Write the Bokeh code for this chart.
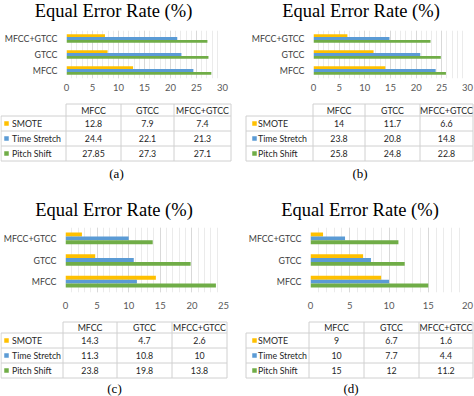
from bokeh.plotting import figure
from bokeh.layouts import column, row
from bokeh.models import ColumnDataSource, Range1d, FactorRange, SingleIntervalTicker
from bokeh.transform import dodge
from bokeh.core.properties import value
from bokeh.embed import file_html
from bokeh.resources import INLINE

# ---------------- data ----------------
categories = ["MFCC", "GTCC", "MFCC+GTCC"]          # bottom -> top on the chart
series = ["SMOTE", "Time Stretch", "Pitch Shift"]
colors = ["#FFC000", "#5B9BD5", "#70AD47"]
title_text = "Equal Error Rate (%)"
captions = ["(a)", "(b)", "(c)", "(d)"]

a_smote = [12.8, 7.9, 7.4]
a_time = [24.4, 22.1, 21.3]
a_pitch = [27.85, 27.3, 27.1]

b_smote = [14, 11.7, 6.6]
b_time = [23.8, 20.8, 14.8]
b_pitch = [25.8, 24.8, 22.8]

c_smote = [14.3, 4.7, 2.6]
c_time = [11.3, 10.8, 10]
c_pitch = [23.8, 19.8, 13.8]

d_smote = [9, 6.7, 1.6]
d_time = [10, 7.7, 4.4]
d_pitch = [15, 12, 11.2]

axis_max = [30, 30, 25, 20]

# ---------------- styling ----------------
SANS = "Lato"
SERIF = "Liberation Serif"
W = 237
BAR_H = 0.18
TXT = "#262626"


def blank(H):
    p = figure(width=W, height=H, x_range=Range1d(0, W), y_range=Range1d(H, 0),
               x_axis_type=None, y_axis_type=None, output_backend="svg",
               toolbar_location=None, min_border=0, min_border_left=0,
               min_border_right=0, min_border_top=0, min_border_bottom=0)
    p.frame_align = False
    p.grid.visible = False
    p.outline_line_color = None
    return p


def title_fig(H, cx, cy):
    p = blank(H)
    p.text(x=[cx], y=[cy], text=[title_text], text_font=value(SERIF),
           text_font_size="18.5px", text_color="#000000",
           text_align="center", text_baseline="middle")
    return p


def chart(smote, time, pitch, xmax, H, ftop, fh, fleft, fw, x_standoff):
    p = figure(width=W, height=H,
               y_range=FactorRange(factors=categories), x_range=Range1d(0, xmax),
               output_backend="svg", toolbar_location=None,
               min_border_left=fleft, min_border_right=W - fleft - fw,
               min_border_top=ftop, min_border_bottom=H - ftop - fh)
    p.frame_align = False
    src = ColumnDataSource(dict(cat=categories, smote=smote, time=time, pitch=pitch))
    for key, off, col in (("smote", BAR_H, colors[0]), ("time", 0.0, colors[1]), ("pitch", -BAR_H, colors[2])):
        p.hbar(y=dodge("cat", off, range=p.y_range), left=0, right=key, height=BAR_H,
               source=src, fill_color=col, line_color=None)

    p.xaxis.ticker = SingleIntervalTicker(interval=5, num_minor_ticks=5)
    for ax in (p.xaxis, p.yaxis):
        ax.axis_line_color = None
        ax.major_tick_line_color = None
        ax.minor_tick_line_color = None
        ax.major_tick_out = 0
        ax.major_tick_in = 0
        ax.minor_tick_out = 0
        ax.major_label_text_font = SANS
    p.xaxis.major_label_text_font_size = "9.5px"
    p.xaxis.major_label_text_color = "#595959"
    p.xaxis.major_label_standoff = x_standoff
    p.yaxis.major_label_text_font_size = "8.8px"
    p.yaxis.major_label_text_color = "#404040"
    p.yaxis.major_label_standoff = 9
    p.xgrid.grid_line_color = "#d9d9d9"
    p.xgrid.minor_grid_line_color = "#ebebeb"
    p.ygrid.grid_line_color = None
    p.outline_line_color = None
    return p


def table(smote, time, pitch, H, cols, sq_x, lab_x, rows, cap_x, cap_y, caption):
    p = blank(H)
    lc = "#d0d0d0"
    # grid lines
    x0s = [cols[1]] + [cols[0]] * 4
    x1s = [cols[4]] * 5
    ys = [rows[0], rows[1], rows[2], rows[3], rows[4]]
    p.segment(x0=x0s, y0=ys, x1=x1s, y1=ys, line_color=lc, line_width=1)
    vx = [cols[0], cols[1], cols[2], cols[3], cols[4]]
    vy0 = [rows[1], rows[0], rows[0], rows[0], rows[0]]
    vy1 = [rows[4]] * 5
    p.segment(x0=vx, y0=vy0, x1=vx, y1=vy1, line_color=lc, line_width=1)

    centers_x = [(cols[i] + cols[i + 1]) / 2 for i in range(1, 4)]
    centers_y = [(rows[i] + rows[i + 1]) / 2 for i in range(4)]
    # header
    p.text(x=centers_x, y=[centers_y[0]] * 3, text=categories,
           text_font=value(SANS), text_font_size="8.8px", text_color=TXT,
           text_align="center", text_baseline="middle")
    # legend squares + row labels
    p.rect(x=[sq_x] * 3, y=centers_y[1:], width=4.5, height=4.5,
           fill_color=colors, line_color=None)
    p.text(x=[lab_x] * 3, y=centers_y[1:], text=series,
           text_font=value(SANS), text_font_size="8.8px", text_color=TXT,
           text_align="left", text_baseline="middle")
    # values
    vals = [smote, time, pitch]
    xs, yy, tt = [], [], []
    for r, rowvals in enumerate(vals):
        for c, v in enumerate(rowvals):
            xs.append(centers_x[c])
            yy.append(centers_y[r + 1])
            tt.append(f"{v:g}")
    p.text(x=xs, y=yy, text=tt, text_font=value(SANS), text_font_size="8.8px",
           text_color=TXT, text_align="center", text_baseline="middle")
    p.text(x=[cap_x], y=[cap_y], text=[caption], text_font=value(SERIF),
           text_font_size="13px", text_color="#000000",
           text_align="center", text_baseline="middle")
    return p


# top row: title 24 + chart 76 + table 95 = 195
tta = title_fig(24, 113, 10.5)
ttb = title_fig(24, 123.5, 10.5)
ca = chart(a_smote, a_time, a_pitch, axis_max[0], 76, 6, 48, 66, 156, 5)
cb = chart(b_smote, b_time, b_pitch, axis_max[1], 76, 6, 48, 76, 154, 5)
rows_top = [3.5, 15.5, 30.5, 45.5, 60.5]
ta = table(a_smote, a_time, a_pitch, 95, [0.5, 65.5, 120.5, 173.5, 230.5], 6, 11.5, rows_top, 116, 73, captions[0])
tb = table(b_smote, b_time, b_pitch, 95, [8.5, 75.5, 127.5, 182.5, 235.5], 17, 20.5, rows_top, 122.5, 73, captions[1])

# bottom row: title 26 + chart 97 + table 78 = 201
ttc = title_fig(26, 113.5, 14)
ttd = title_fig(26, 122.5, 14)
cc = chart(c_smote, c_time, c_pitch, axis_max[2], 97, 6, 65, 64, 159, 9)
cd = chart(d_smote, d_time, d_pitch, axis_max[3], 97, 6, 65, 73, 157, 9)
rows_bot = [3.5, 14.5, 29.5, 44.5, 59.5]
tc = table(c_smote, c_time, c_pitch, 78, [0.5, 62.5, 116.5, 171.5, 226.5], 6, 11.5, rows_bot, 114, 70.3, captions[2])
td = table(d_smote, d_time, d_pitch, 78, [8.5, 71.5, 126.5, 181.5, 235.5], 17, 20.5, rows_bot, 113.5, 70.3, captions[3])

layout = column(
    row(column(tta, ca, ta), column(ttb, cb, tb)),
    row(column(ttc, cc, tc), column(ttd, cd, td)),
)

open("out.html", "w").write(file_html(layout, INLINE))
